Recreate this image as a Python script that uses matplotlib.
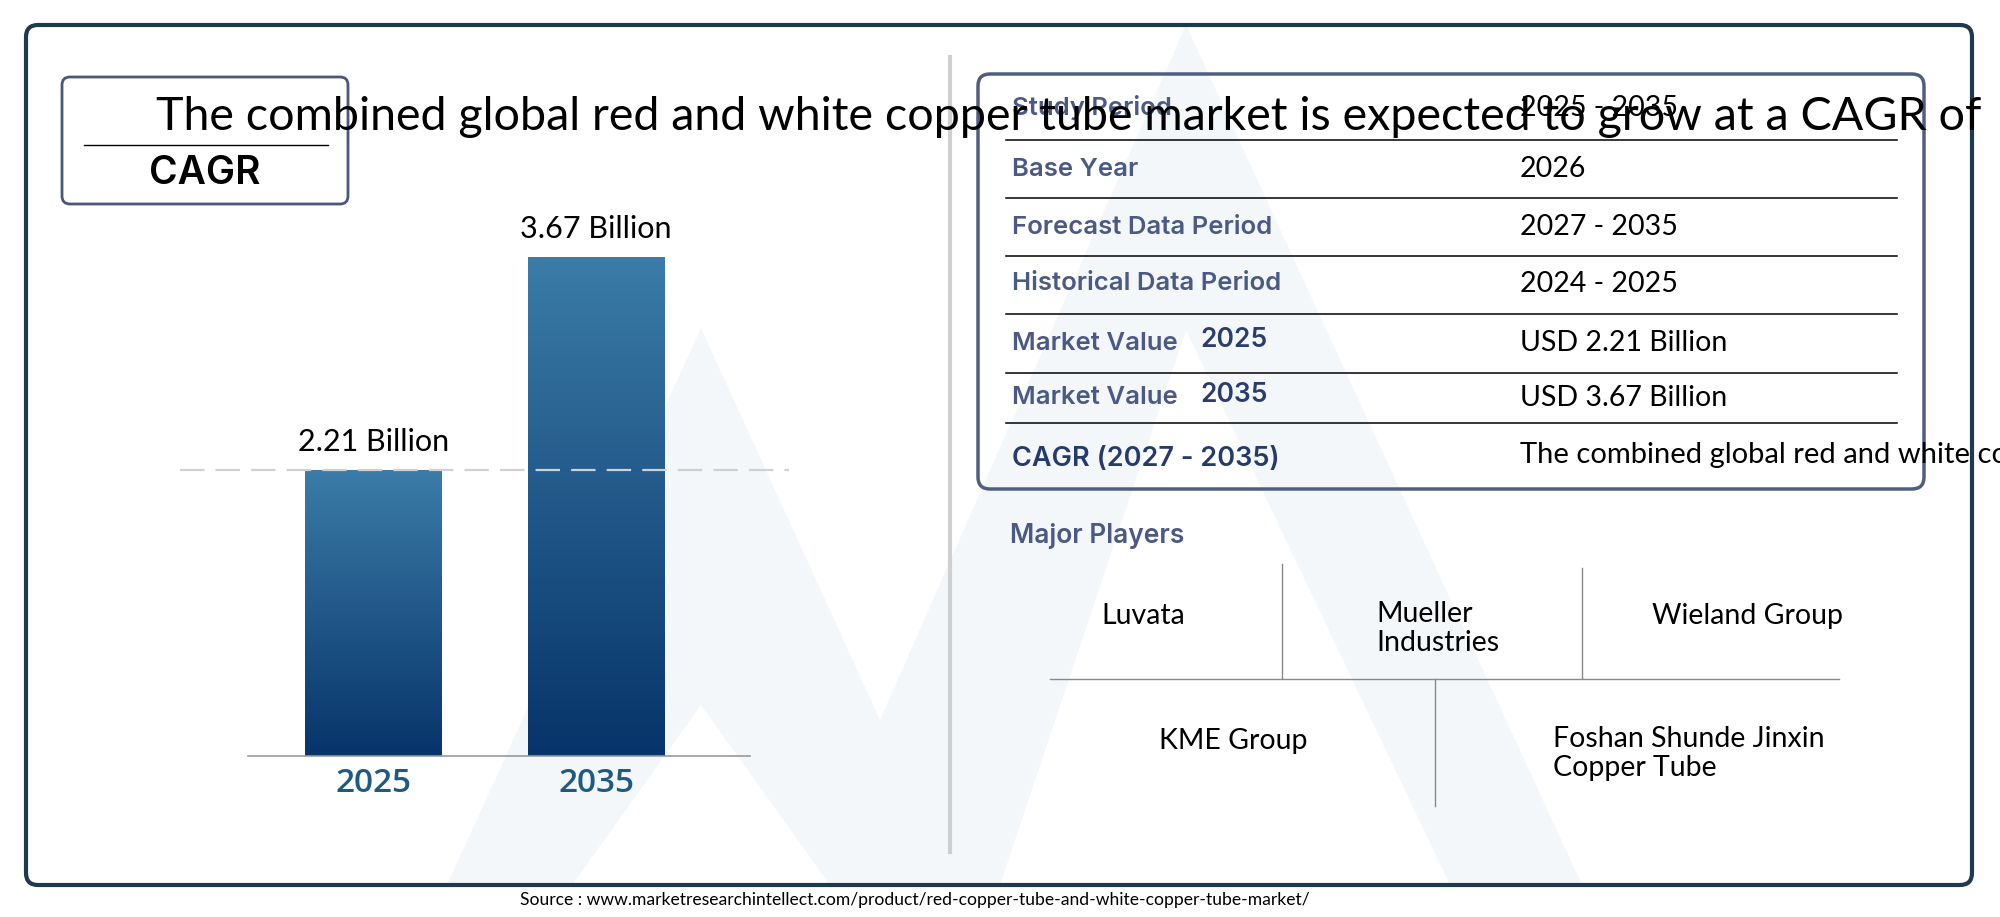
import numpy as np
import matplotlib
matplotlib.use("Agg")
import matplotlib.pyplot as plt
from matplotlib.patches import FancyBboxPatch, Polygon
from matplotlib.colors import LinearSegmentedColormap

# chart data
years = ["2025", "2035"]
values = [2.21, 3.67]
value_labels = ["2.21 Billion", "3.67 Billion"]

headline = "The combined global red and white copper tube market is expected to grow at a CAGR of"

table_labels = ["Study Period", "Base Year", "Forecast Data Period", "Historical Data Period",
                "Market Value", "Market Value", "CAGR (2027 - 2035)"]
table_label_years = ["", "", "", "", "2025", "2035", ""]
table_values = ["2025 - 2035", "2026", "2027 - 2035", "2024 - 2025",
                "USD 2.21 Billion", "USD 3.67 Billion", headline]

players_top = ["Luvata", "Mueller\nIndustries", "Wieland Group"]
players_bottom = ["KME Group", "Foshan Shunde Jinxin\nCopper Tube"]

source = "Source : www.marketresearchintellect.com/product/red-copper-tube-and-white-copper-tube-market/"

W, H = 2000, 917
fig = plt.figure(figsize=(20, 9.17), dpi=100)

# background canvas in pixel coords
bg = fig.add_axes([0, 0, 1, 1])
bg.set_xlim(0, W)
bg.set_ylim(H, 0)
bg.axis("off")

# faint watermark
wm = [(447, 885), (701, 328), (880, 720), (1186, 25), (1582, 885), (1450, 885),
      (1186, 330), (1000, 885), (830, 885), (701, 705), (572, 885)]
bg.add_patch(Polygon(wm, closed=True, facecolor="#f4f7fa", edgecolor="none", zorder=0))

# outer frame
bg.add_patch(FancyBboxPatch((26, 25), 1946, 860, boxstyle="round,pad=0,rounding_size=12",
                            facecolor="none", edgecolor="#1e3a4c", linewidth=3, zorder=2))

# divider
bg.plot([950, 950], [57, 852], color="#cfcfcf", linewidth=3, zorder=1)

# CAGR box
bg.add_patch(FancyBboxPatch((62, 77), 286, 127, boxstyle="round,pad=0,rounding_size=8",
                            facecolor="none", edgecolor="#4a5878", linewidth=2, zorder=2))
bg.plot([84, 328], [145, 145], color="black", linewidth=1, zorder=2)
bg.text(205, 174, "CAGR", fontsize=28, fontweight="semibold", family="Inter",
        ha="center", va="center", color="black", zorder=3)

# table box
bg.add_patch(FancyBboxPatch((978, 74), 946, 415, boxstyle="round,pad=0,rounding_size=12",
                            facecolor="none", edgecolor="#4f5e80", linewidth=2.5, zorder=2))
for y in [140, 198, 256, 314, 373, 423]:
    bg.plot([1006, 1897], [y, y], color="black", linewidth=1.1, zorder=2)

row_y = [108, 169, 227, 284, 343, 398, 459]
for i, (lab, yr, val) in enumerate(zip(table_labels, table_label_years, table_values)):
    y = row_y[i]
    if lab.startswith("CAGR"):
        bg.text(1012, y, lab, fontsize=19.5, fontweight="semibold", family="Inter",
                color="#243b6b", ha="left", va="center", zorder=3)
        bg.text(1520, y - 4, val, fontsize=21, family="Lato", color="black",
                ha="left", va="center", zorder=3)
        continue
    bg.text(1012, y, lab, fontsize=18.5, fontweight="semibold", family="Inter",
            color="#4b5a85", ha="left", va="center", zorder=3)
    if yr:
        bg.text(1200, y - 3, yr, fontsize=19, fontweight="semibold", family="Inter",
                color="#2a3d6c", ha="left", va="center", zorder=3)
    bg.text(1520, y, val, fontsize=20.5, family="Lato", color="black",
            ha="left", va="center", zorder=3)

# major players
bg.text(1010, 536, "Major Players", fontsize=19, fontweight="semibold", family="Inter",
        color="#4b5a85", ha="left", va="center", zorder=3)
bg.plot([1282, 1282], [564, 678], color="#888888", linewidth=1, zorder=2)
bg.plot([1582, 1582], [568, 678], color="#888888", linewidth=1, zorder=2)
bg.plot([1050, 1839], [679, 679], color="#888888", linewidth=1, zorder=2)
bg.plot([1435, 1435], [679, 806], color="#888888", linewidth=1, zorder=2)

top_x = [1101, 1376, 1652]
for x, name in zip(top_x, players_top):
    if "\n" in name:
        bg.text(x, 601, name, fontsize=20.5, family="Lato", color="black",
                ha="left", va="top", linespacing=1.15, zorder=3)
    else:
        bg.text(x, 616, name, fontsize=20.5, family="Lato", color="black",
                ha="left", va="center", zorder=3)

bottom_x = [1159, 1553]
for x, name in zip(bottom_x, players_bottom):
    if "\n" in name:
        bg.text(x, 726, name, fontsize=20.5, family="Lato", color="black",
                ha="left", va="top", linespacing=1.15, zorder=3)
    else:
        bg.text(x, 741, name, fontsize=20.5, family="Lato", color="black",
                ha="left", va="center", zorder=3)

# headline overlapping everything
bg.text(156, 130, headline, fontsize=33.6, family="Lato", color="black",
        ha="left", va="baseline", zorder=10)

# source
bg.text(520, 900, source, fontsize=12.6, family="Lato", color="black",
        ha="left", va="center", zorder=3)

# bar chart
ax = fig.add_axes([248 / W, (H - 756) / H, 502 / W, 526 / H])
ax.patch.set_visible(False)
x = np.arange(len(years))
bars = ax.bar(x, values, width=0.61, color="none", edgecolor="none")
cmap = LinearSegmentedColormap.from_list("bar", ["#07346a", "#3b7ca8"])
grad = np.linspace(0, 1, 256).reshape(-1, 1)
for b in bars:
    im = ax.imshow(grad, cmap=cmap, origin="lower", aspect="auto",
                   extent=(b.get_x(), b.get_x() + b.get_width(), 0.25, b.get_height()), zorder=1)
    im.set_clip_path(b)

ax.set_xlim(-0.561, 1.690)
ax.set_ylim(0.25, 3.855)
ax.axhline(values[0], xmin=-0.135, xmax=1.078, color="#d0d0d0", linewidth=1.6,
           dashes=(11, 5), clip_on=False, zorder=3)

for xi, v, lab in zip(x, values, value_labels):
    ax.annotate(lab, xy=(xi, v), xytext=(0, 20), textcoords="offset points",
                ha="center", va="center", fontsize=22, family="Lato", color="black")

ax.set_xticks(x)
ax.set_xticklabels(years, fontsize=24, fontweight="semibold", family="Open Sans", color="#1d5b85")
ax.tick_params(axis="x", length=0, pad=8)
ax.set_yticks([])
for s in ["top", "left", "right"]:
    ax.spines[s].set_visible(False)
ax.spines["bottom"].set_color("#999999")
ax.spines["bottom"].set_linewidth(1.2)

fig.savefig("out.png", dpi=100)
